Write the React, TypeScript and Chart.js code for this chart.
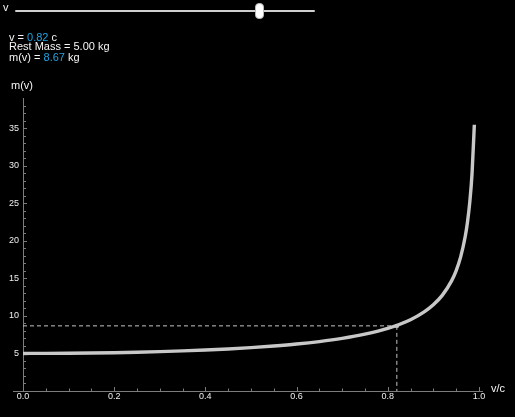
import React, { useEffect, useRef } from "react";
import { Chart, registerables } from "chart.js";

Chart.register(...registerables);

// Curve: v/c and relativistic mass m(v) in kg
const velocities = [0, 0.05, 0.1, 0.15, 0.2, 0.25, 0.3, 0.35, 0.4, 0.45, 0.5, 0.55, 0.6, 0.65, 0.7, 0.75, 0.8, 0.85, 0.88, 0.9, 0.92, 0.94, 0.95, 0.96, 0.97, 0.975, 0.98, 0.985, 0.99];
const masses = [5.0, 5.01, 5.03, 5.06, 5.1, 5.16, 5.24, 5.34, 5.46, 5.6, 5.77, 5.99, 6.25, 6.58, 7.0, 7.56, 8.33, 9.49, 10.53, 11.47, 12.76, 14.66, 16.0, 17.86, 20.57, 22.5, 25.13, 28.98, 35.44];

const currentV = 0.82;
const currentMass = 8.67;
const restMass = 5.0;

const xTickValues = [0, 0.2, 0.4, 0.6, 0.8, 1.0];
const yTickValues = [5, 10, 15, 20, 25, 30, 35];
const xMinorTicks = [0, 0.05, 0.1, 0.15, 0.2, 0.25, 0.3, 0.35, 0.4, 0.45, 0.5, 0.55, 0.6, 0.65, 0.7, 0.75, 0.8, 0.85, 0.9, 0.95, 1.0];
const yMinorTicks = [1, 2, 3, 4, 5, 6, 7, 8, 9, 10, 11, 12, 13, 14, 15, 16, 17, 18, 19, 20, 21, 22, 23, 24, 25, 26, 27, 28, 29, 30, 31, 32, 33, 34, 35, 36, 37, 38];

const AXIS_COLOR = "#7c7c7c";
const FONT = "'Liberation Sans', Arial, sans-serif";

const axesPlugin = {
  id: "customAxes",
  beforeDatasetsDraw(chart: any) {
    const { ctx, chartArea, scales } = chart;
    const xs = scales.x;
    const ys = scales.y;
    const x0 = xs.getPixelForValue(0);
    const y0 = ys.getPixelForValue(0);
    ctx.save();
    ctx.strokeStyle = AXIS_COLOR;
    ctx.lineWidth = 1;
    ctx.beginPath();
    ctx.moveTo(x0 - 10, Math.round(y0) + 0.5);
    ctx.lineTo(chartArea.right, Math.round(y0) + 0.5);
    ctx.moveTo(Math.round(x0) + 0.5, Math.round(y0));
    ctx.lineTo(Math.round(x0) + 0.5, chartArea.top);
    for (const v of xMinorTicks) {
      const px = Math.round(xs.getPixelForValue(v)) + 0.5;
      const major = xTickValues.some((t) => Math.abs(t - v) < 1e-9);
      ctx.moveTo(px, Math.round(y0));
      ctx.lineTo(px, Math.round(y0) - (major ? 4 : 2.5));
    }
    for (const v of yMinorTicks) {
      const py = Math.round(ys.getPixelForValue(v)) + 0.5;
      const major = yTickValues.includes(v);
      ctx.moveTo(Math.round(x0) + 1, py);
      ctx.lineTo(Math.round(x0) + 1 + (major ? 3 : 2), py);
    }
    ctx.stroke();
    ctx.restore();
  },
};

export default function App() {
  const canvasRef = useRef<HTMLCanvasElement | null>(null);

  useEffect(() => {
    document.body.style.margin = "0";
    document.body.style.background = "#000";
    const canvas = canvasRef.current;
    if (!canvas) return;
    const curve = velocities.map((v, i) => ({ x: v, y: masses[i] }));
    const chart = new Chart(canvas, {
      type: "scatter",
      data: {
        datasets: [
          {
            data: [
              { x: 0, y: currentMass },
              { x: currentV, y: currentMass },
            ],
            showLine: true,
            borderColor: "#c4c4c4",
            borderWidth: 1,
            borderDash: [4, 3],
            pointRadius: 0,
          },
          {
            data: [
              { x: currentV, y: currentMass },
              { x: currentV, y: 0 },
            ],
            showLine: true,
            borderColor: "#c4c4c4",
            borderWidth: 1,
            borderDash: [4, 3],
            pointRadius: 0,
          },
          {
            data: curve,
            showLine: true,
            borderColor: "#c8c8c8",
            borderWidth: 3.4,
            pointRadius: 0,
            cubicInterpolationMode: "monotone",
          },
          {
            data: [{ x: currentV, y: currentMass }],
            pointStyle: "rect",
            pointRadius: 2.5,
            backgroundColor: "#ffffff",
            borderColor: "#ffffff",
            borderWidth: 0,
          },
        ],
      },
      options: {
        animation: false,
        responsive: false,
        maintainAspectRatio: false,
        layout: { padding: { top: 98, right: 32, left: 0, bottom: 0 } },
        plugins: { legend: { display: false }, tooltip: { enabled: false } },
        scales: {
          x: {
            type: "linear",
            min: 0,
            max: 1.009,
            grid: { display: false, drawTicks: false },
            border: { display: false },
            afterBuildTicks: (s: any) => {
              s.ticks = xTickValues.map((v) => ({ value: v }));
            },
            afterFit: (s: any) => {
              s.height = 26;
            },
            ticks: {
              color: "#eeeeee",
              font: { family: FONT, size: 9 },
              padding: 0,
              maxRotation: 0,
              autoSkip: false,
              callback: (v: any) => Number(v).toFixed(1),
            },
          },
          y: {
            type: "linear",
            min: 0,
            max: 39,
            grid: { display: false, drawTicks: false },
            border: { display: false },
            afterBuildTicks: (s: any) => {
              s.ticks = yTickValues.map((v) => ({ value: v }));
            },
            afterFit: (s: any) => {
              s.width = 23;
            },
            ticks: {
              color: "#eeeeee",
              font: { family: FONT, size: 9 },
              padding: 4,
              autoSkip: false,
              callback: (v: any) => String(v),
            },
          },
        },
      },
      plugins: [axesPlugin],
    });
    return () => chart.destroy();
  }, []);

  const textBase: React.CSSProperties = {
    position: "absolute",
    fontFamily: FONT,
    fontSize: "11px",
    lineHeight: "11px",
    color: "#f5f5f5",
    whiteSpace: "nowrap",
  };
  const blue: React.CSSProperties = { color: "#1fa3e2" };

  return (
    <div style={{ position: "relative", width: 515, height: 417, background: "#000", overflow: "hidden" }}>
      <canvas ref={canvasRef} width={515} height={417} style={{ position: "absolute", left: 0, top: 0, width: 515, height: 417 }} />
      <div style={{ ...textBase, left: 3, top: 1.5 }}>v</div>
      <div style={{ position: "absolute", left: 15, top: 10, width: 300, height: 2, background: "#cfcfcf", borderRadius: 1 }} />
      <div
        style={{
          position: "absolute",
          left: 255,
          top: 3,
          width: 9,
          height: 16,
          background: "#ffffff",
          border: "1px solid #b8b8b8",
          boxSizing: "border-box",
          borderRadius: 4,
        }}
      />
      <div style={{ ...textBase, left: 9, top: 31.5 }}>
        v = <span style={blue}>{currentV.toFixed(2)}</span> c
      </div>
      <div style={{ ...textBase, left: 9, top: 41 }}>Rest Mass = {restMass.toFixed(2)} kg</div>
      <div style={{ ...textBase, left: 9, top: 51.8 }}>
        m(v) = <span style={blue}>{currentMass.toFixed(2)}</span> kg
      </div>
      <div style={{ ...textBase, left: 11, top: 80.3 }}>m(v)</div>
      <div style={{ ...textBase, left: 491, top: 383 }}>v/c</div>
    </div>
  );
}
